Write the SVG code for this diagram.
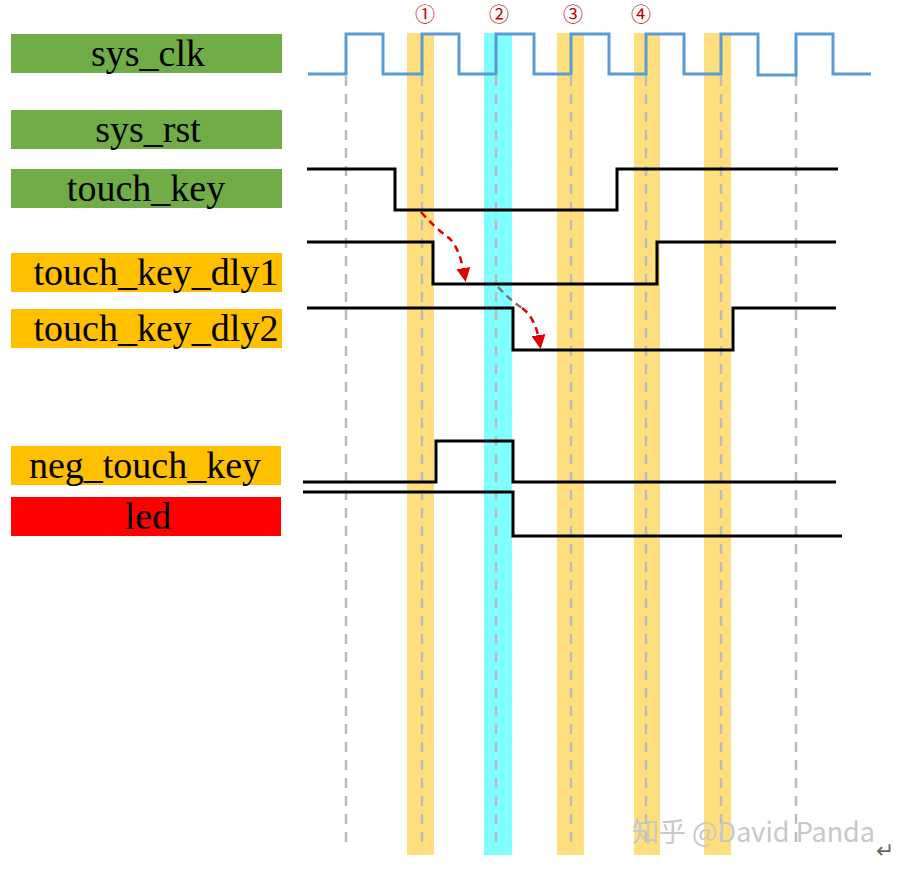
<svg xmlns="http://www.w3.org/2000/svg" width="899" height="870" viewBox="0 0 899 870">
<style>
.lbl{font-family:"Liberation Serif",serif;font-size:38px;text-anchor:middle;fill:#000}
.g{fill:#70AD47}.o{fill:#FFC000}.r{fill:#FF0000}
.band{fill:#FFD966;opacity:0.85}
.dash{stroke:#BBBBBB;stroke-width:2.5;stroke-dasharray:10 8;fill:none}
.sig{stroke:#000;stroke-width:3;fill:none}
.num{font-family:"Liberation Serif","Noto Sans CJK SC",serif;font-size:20px;fill:#C00000;text-anchor:middle}
.arr{stroke:#E00000;stroke-width:2.5;stroke-dasharray:7 5;fill:none}
</style>
<defs>
<marker id="ah2" markerWidth="14" markerHeight="14" refX="10" refY="7" orient="auto" markerUnits="userSpaceOnUse"><path d="M0,0 L14,7 L0,14 Z" fill="#E00000"/></marker></defs>
<g id="bands">
<rect class="band" x="407" y="33" width="27" height="822"/>
<rect x="484" y="33" width="28" height="822" fill="#00FFFF" opacity="0.5"/>
<rect class="band" x="557" y="33" width="27" height="822"/>
<rect class="band" x="634" y="33" width="26" height="822"/>
<rect class="band" x="704" y="33" width="27" height="822"/>
</g>
<g id="gridlines">
<line class="dash" x1="346" y1="76" x2="346" y2="850"/>
<line class="dash" x1="422" y1="76" x2="422" y2="850"/>
<line class="dash" x1="496" y1="76" x2="496" y2="850"/>
<line class="dash" x1="571" y1="76" x2="571" y2="850"/>
<line class="dash" x1="646" y1="76" x2="646" y2="850"/>
<line class="dash" x1="721" y1="76" x2="721" y2="850"/>
<line class="dash" x1="796" y1="76" x2="796" y2="850"/>
</g>
<g id="numbers">
<text class="num" x="425" y="22">①</text>
<text class="num" x="499" y="22">②</text>
<text class="num" x="573" y="22">③</text>
<text class="num" x="641" y="22">④</text>
</g>
<g id="labels">
<g id="n-sys_clk"><rect class="g" x="11" y="34" width="271" height="39"/><text class="lbl" x="148" y="66">sys_clk</text></g>
<g id="n-sys_rst"><rect class="g" x="11" y="110" width="271" height="39"/><text class="lbl" x="148" y="142">sys_rst</text></g>
<g id="n-touch_key"><rect class="g" x="11" y="169" width="271" height="39"/><text class="lbl" x="146" y="201">touch_key</text></g>
<g id="n-dly1"><rect class="o" x="11" y="253" width="271" height="39"/><text class="lbl" x="156" y="285">touch_key_dly1</text></g>
<g id="n-dly2"><rect class="o" x="11" y="309" width="271" height="39"/><text class="lbl" x="156" y="341">touch_key_dly2</text></g>
<g id="n-neg"><rect class="o" x="11" y="446" width="270" height="39"/><text class="lbl" x="145" y="478">neg_touch_key</text></g>
<g id="n-led"><rect class="r" x="11" y="497" width="270" height="39"/><text class="lbl" x="148" y="529">led</text></g>
</g>
<g id="connectors">
<path d="M308,74 H346 V34 H383 V74 H422 V34 H459 V74 H496 V34 H534 V74 H571 V34 H609 V74 H646 V34 H684 V74 H721 V34 H758 V75 H796 V34 H833 V74 H871" stroke="#5B9BD5" stroke-width="3" fill="none"/>
<path class="sig" d="M307,169 H395 V210 H617 V169 H838"/>
<path class="sig" d="M307,242 H433 V284 H657 V242 H836"/>
<path class="sig" d="M307,308 H513 V350 H733 V308 H836"/>
<path class="sig" d="M303,482 H436 V441 H513 V482 H836"/>
<path class="sig" d="M303,492 H513 V536 H842"/>
<path class="arr" d="M421,212 Q435,228 449,238 Q460,248 465,278" marker-end="url(#ah2)"/>
<path d="M498,287 Q510,300 522,308" stroke="#777" stroke-width="2.5" stroke-dasharray="7 5" fill="none"/>
<path class="arr" d="M522,308 Q536,318 540,345" marker-end="url(#ah2)"/>
</g>
<text x="632" y="842" font-family="'Noto Sans CJK SC','Noto Sans',sans-serif" font-size="27" fill="#C8C8C8">知乎 @David Panda</text>
<text x="876" y="858" font-family="'Liberation Sans',sans-serif" font-size="22" fill="#666">↵</text>
</svg>
